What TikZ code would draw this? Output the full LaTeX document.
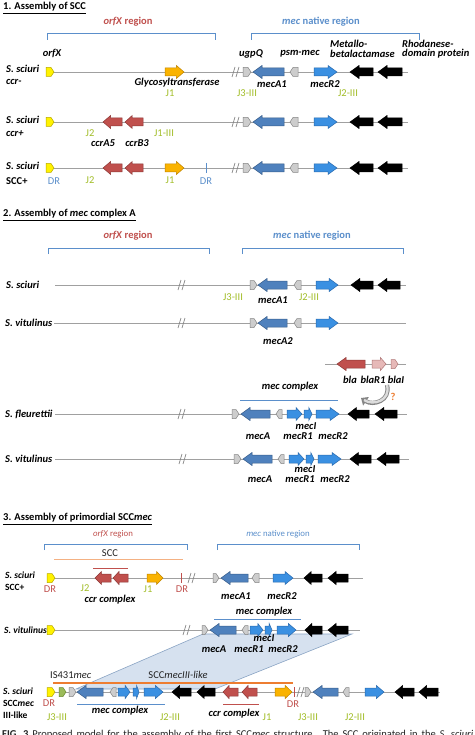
\documentclass[tikz,border=0pt]{standalone}
\usepackage{fontspec}
\setmainfont{Carlito}
\usetikzlibrary{arrows.meta}
\definecolor{cBlueDark}{HTML}{4F81BD}
\definecolor{cBlueDarkD}{HTML}{385D8A}
\definecolor{cBlueBr}{HTML}{3A90E2}
\definecolor{cBlueBrD}{HTML}{2A6AAE}
\definecolor{cRed}{HTML}{C0504D}
\definecolor{cRedD}{HTML}{8C3836}
\definecolor{cOrange}{HTML}{FAB300}
\definecolor{cOrangeD}{HTML}{C08400}
\definecolor{cYellow}{HTML}{FFF200}
\definecolor{cYellowD}{HTML}{B8A800}
\definecolor{cGrey}{HTML}{CDCDCD}
\definecolor{cGreyD}{HTML}{858585}
\definecolor{cPink}{HTML}{E6B9B8}
\definecolor{cPinkD}{HTML}{B07878}
\definecolor{cGreen}{HTML}{9BBB59}
\definecolor{cGreenD}{HTML}{6A8A30}
\definecolor{cJ}{HTML}{A3BE2A}
\definecolor{cBracket}{HTML}{5B8FCB}
\definecolor{cLine}{HTML}{A0A0A0}
\definecolor{cSCC}{HTML}{F4B183}
\definecolor{cSCCm}{HTML}{ED7D31}
\definecolor{cFill}{HTML}{D6E1EF}
\definecolor{cFillD}{HTML}{8AA4C4}
\definecolor{cText}{HTML}{222222}
\newcommand\fsA{\fontsize{10.5}{12}\selectfont}
\newcommand\fsB{\fontsize{9.5}{11}\selectfont}
\newcommand\fsC{\fontsize{8.8}{10}\selectfont}
\tikzset{
  gene/.style={line width=0.5pt, line join=miter},
  gmecA/.style={fill=cBlueDark, draw=cBlueDarkD},
  gmecR/.style={fill=cBlueBr, draw=cBlueBrD},
  gblk/.style={fill=black, draw=black},
  ggry/.style={fill=cGrey, draw=cGreyD},
  gred/.style={fill=cRed, draw=cRedD},
  gorg/.style={fill=cOrange, draw=cOrangeD},
  gyel/.style={fill=cYellow, draw=cYellowD},
  gpink/.style={fill=cPink, draw=cPinkD},
  ggrn/.style={fill=cGreen, draw=cGreenD},
  bb/.style={draw=cLine, line width=0.8pt},
  brkl/.style={draw=cGreyD, line width=0.7pt},
  brace/.style={draw=cBracket, line width=1pt},
  tx/.style={inner sep=0pt, font=\fsA, text=cText},
  bi/.style={inner sep=0pt, font=\fsA\bfseries\itshape, text=black},
  sp/.style={bi, anchor=west},
  jl/.style={inner sep=0pt, font=\fsA, text=cJ},
  drb/.style={inner sep=0pt, font=\fsA, text=cBracket},
  drr/.style={inner sep=0pt, font=\fsA, text=cRed},
  ttl/.style={inner sep=0pt, font=\fsA\bfseries, text=black, anchor=west},
}
% big gene arrow: x1, x2, y, dir (1 right / -1 left), style
\newcommand\GA[5]{%
  \pgfmathsetmacro\hl{min(9,0.4*(#2-#1))}%
  \ifnum#4>0
    \filldraw[gene,#5] (#1,{#3-4}) -- ({#2-\hl},{#3-4}) -- ({#2-\hl},{#3-6.5}) -- (#2,#3) -- ({#2-\hl},{#3+6.5}) -- ({#2-\hl},{#3+4}) -- (#1,{#3+4}) -- cycle;
  \else
    \filldraw[gene,#5] (#2,{#3-4}) -- ({#1+\hl},{#3-4}) -- ({#1+\hl},{#3-6.5}) -- (#1,#3) -- ({#1+\hl},{#3+6.5}) -- ({#1+\hl},{#3+4}) -- (#2,{#3+4}) -- cycle;
  \fi}
% small pentagon gene
\newcommand\GS[5]{%
  \ifnum#4>0
    \filldraw[gene,#5] (#1,{#3-4.5}) -- ({#2-3},{#3-4.5}) -- (#2,#3) -- ({#2-3},{#3+4.5}) -- (#1,{#3+4.5}) -- cycle;
  \else
    \filldraw[gene,#5] (#2,{#3-4.5}) -- ({#1+3},{#3-4.5}) -- (#1,#3) -- ({#1+3},{#3+4.5}) -- (#2,{#3+4.5}) -- cycle;
  \fi}
\newcommand\BRK[2]{\draw[brkl] ({#1-4},{#2+5}) -- ({#1-1},{#2-5}) ({#1},{#2+5}) -- ({#1+3},{#2-5});}
\newcommand\MECROW[1]{%
  \BRK{236}{#1}
  \GS{243}{251}{#1}{1}{ggry}
  \GA{253}{284}{#1}{-1}{gmecA}
  \GS{290}{298}{#1}{-1}{ggry}
  \GA{314}{337}{#1}{1}{gmecR}
  \GA{350}{373}{#1}{-1}{gblk}
  \GA{378}{402}{#1}{-1}{gblk}}
\begin{document}
\begin{tikzpicture}[x=1pt,y=-1pt]
\useasboundingbox (0,0) rectangle (474,735);
\clip (0,0) rectangle (474,735);
\fill[white] (0,0) rectangle (474,735);

%% ================= Section 1 =================
\node[ttl] (s1) at (3,8) {\underline{1. Assembly of SCC}};
\node[tx, font=\fsA\bfseries, text=cRed] (h1a) at (128,22) {\textit{orfX} region};
\node[tx, font=\fsA\bfseries, text=cBracket] (h1b) at (321,22) {\textit{mec} native region};
\draw[brace] (47,40) -- (47,34) -- (215,34) -- (215,40);
\draw[brace] (251,40) -- (251,34) -- (419,34) -- (419,40);

% row A
\draw[bb] (50,72) -- (408,72);
\GS{46}{54}{72}{1}{gyel}
\GA{165}{184}{72}{1}{gorg}
\MECROW{72}
\node[sp] (a1) at (6,69) {S. sciuri};
\node[sp] (a2) at (6,82) {ccr-};
\node[bi] (a3) at (52,53) {orfX};
\node[bi] (a4) at (177,83) {Glycosyltransferase};
\node[jl] (a5) at (170,93) {J1};
\node[bi] (a6) at (251,54) {ugpQ};
\node[bi] (a7) at (300,54) {psm-mec};
\node[bi, anchor=west] (a8) at (330,44) {Metallo-};
\node[bi, anchor=west] (a9) at (330,54) {betalactamase};
\node[bi, anchor=west] (a10) at (402,44) {Rhodanese-};
\node[bi, anchor=west] (a11) at (402,54) {domain protein};
\node[bi] (a12) at (272,84) {mecA1};
\node[bi] (a13) at (325,84) {mecR2};
\node[jl] (a14) at (247,93) {J3-III};
\node[jl] (a15) at (348,93) {J2-III};

% row B
\draw[bb] (50,122) -- (408,122);
\GS{46}{54}{122}{1}{gyel}
\GA{103}{122}{122}{-1}{gred}
\GA{125}{143}{122}{-1}{gred}
\MECROW{122}
\node[sp] (b1) at (6,120) {S. sciuri};
\node[sp] (b2) at (6,134) {ccr+};
\node[jl] (b3) at (90,133) {J2};
\node[bi] (b4) at (103,143) {ccrA5};
\node[bi] (b5) at (137,143) {ccrB3};
\node[jl] (b6) at (164,133) {J1-III};

% row C
\draw[bb] (50,168) -- (408,168);
\GS{46}{54}{168}{1}{gyel}
\GA{103}{122}{168}{-1}{gred}
\GA{125}{143}{168}{-1}{gred}
\GA{165}{184}{168}{1}{gorg}
\draw[brace] (206,163) -- (206,173);
\MECROW{168}
\node[sp] (c1) at (6,166) {S. sciuri};
\node[sp, font=\fsA\bfseries] (c2) at (6,181) {SCC+};
\node[drb] (c3) at (54,181) {DR};
\node[jl] (c4) at (90,180) {J2};
\node[jl] (c5) at (170,180) {J1};
\node[drb] (c6) at (206,181) {DR};

%% ================= Section 2 =================
\node[ttl] (s2) at (3,215) {\underline{2. Assembly of \textit{mec} complex A}};
\node[tx, font=\fsA\bfseries, text=cRed] (h2a) at (128,236) {\textit{orfX} region};
\node[tx, font=\fsA\bfseries, text=cBracket] (h2b) at (312,236) {\textit{mec} native region};
\draw[brace] (48,254) -- (48,248) -- (209,248) -- (209,254);
\draw[brace] (242,254) -- (242,248) -- (403,248) -- (403,254);

% S. sciuri
\draw[bb] (55,285) -- (406,285);
\BRK{182}{285}
\GS{250}{257}{285}{1}{ggry}
\GA{258}{287}{285}{-1}{gmecA}
\GS{294}{301}{285}{-1}{ggry}
\GA{316}{338}{285}{1}{gmecR}
\GA{351}{373}{285}{-1}{gblk}
\GA{378}{400}{285}{-1}{gblk}
\node[sp] (d1) at (6,285) {S. sciuri};
\node[jl] (d2) at (233,297) {J3-III};
\node[bi] (d3) at (273,300) {mecA1};
\node[jl] (d4) at (309,297) {J2-III};

% S. vitulinus
\draw[bb] (54,323) -- (406,323);
\BRK{182}{323}
\GS{250}{257}{323}{1}{ggry}
\GA{258}{287}{323}{-1}{gmecA}
\GS{294}{301}{323}{-1}{ggry}
\GA{316}{338}{323}{1}{gmecR}
\node[sp] (e1) at (5,323) {S. vitulinus};
\node[bi] (e2) at (278,341) {mecA2};

% bla cluster
\draw[bb] (325,364) -- (406,364);
\GA{337}{365}{364}{-1}{gred}
\GA{372}{386}{364}{1}{gpink}
\GS{391}{398}{364}{1}{gpink}
\node[bi] (f1) at (350,380) {bla};
\node[bi] (f2) at (373,380) {blaR1};
\node[bi] (f3) at (396,380) {blaI};
\draw[cGreyD, line width=4.2pt, -{Triangle[length=6pt,width=10pt]}] (387,385) .. controls (391,401) and (373,406) .. (361,398);
\draw[cGrey!70, line width=2.4pt] (387,385) .. controls (391,401) and (373,406) .. (364,400);
\node[tx, font=\fsA\bfseries, text=cSCCm] (f4) at (393,397) {?};

\node[bi] (f5) at (290,387) {mec complex};
\draw[brace] (240,400) -- (338,400);

% S. fleurettii
\draw[bb] (55,414) -- (407,414);
\BRK{182}{414}
\GS{232}{239}{414}{1}{ggry}
\GA{241}{270}{414}{-1}{gmecA}
\GS{276}{282}{414}{-1}{ggry}
\GA{287}{302}{414}{1}{gmecR}
\GA{304}{312}{414}{1}{gmecR}
\GA{316}{339}{414}{1}{gmecR}
\GA{348}{369}{414}{-1}{gblk}
\GA{375}{397}{414}{-1}{gblk}
\node[sp] (g1) at (5,414) {S. fleurettii};
\node[bi] (g2) at (306,426) {mecI};
\node[bi] (g3) at (258,436) {mecA};
\node[bi] (g4) at (298,436) {mecR1};
\node[bi] (g5) at (333,436) {mecR2};

% S. vitulinus 2
\draw[bb] (55,459) -- (409,459);
\BRK{183}{459}
\GS{234}{241}{459}{1}{ggry}
\GA{243}{272}{459}{-1}{gmecA}
\GS{278}{284}{459}{-1}{ggry}
\GA{289}{304}{459}{1}{gmecR}
\GA{306}{314}{459}{1}{gmecR}
\GA{318}{341}{459}{1}{gmecR}
\GA{350}{371}{459}{-1}{gblk}
\GA{377}{399}{459}{-1}{gblk}
\node[sp] (k1) at (5,459) {S. vitulinus};
\node[bi] (k2) at (305,469) {mecI};
\node[bi] (k3) at (260,479) {mecA};
\node[bi] (k4) at (300,479) {mecR1};
\node[bi] (k5) at (335,479) {mecR2};

%% ================= Section 3 =================
\node[ttl] (s3) at (3,519) {\underline{3. Assembly of primordial SCC\textit{mec}}};
\node[tx, font=\fsC, text=cRed] (h3a) at (113,534) {\textit{orfX} region};
\node[tx, font=\fsC, text=cBracket] (h3b) at (278,534) {\textit{mec} native region};
\draw[brace] (44,550) -- (44,544) -- (187,544) -- (187,550);
\draw[brace] (217,550) -- (217,544) -- (359,544) -- (359,550);
\node[tx, font=\fsA] (h3c) at (110,553) {SCC};
\draw[cSCC, line width=1pt] (54,559) -- (183,559);

% trapezoid
\filldraw[fill=cFill, draw=cFillD, line width=0.6pt] (203,634) -- (352,634) -- (215,689) -- (76,689) -- cycle;

% S. sciuri SCC+
\draw[bb] (54,578) -- (363,578);
\GS{47}{55}{578}{1}{gyel}
\draw[cRed, line width=1pt] (93,568) -- (128,568);
\GA{95}{111}{578}{-1}{gred}
\GA{113}{128}{578}{-1}{gred}
\GA{147}{163}{578}{1}{gorg}
\draw[cRed, line width=1pt] (181,573) -- (181,583);
\BRK{192}{578}
\GS{213}{219}{578}{1}{ggry}
\GA{221}{248}{578}{-1}{gmecA}
\GS{252}{259}{578}{-1}{ggry}
\GA{273}{293}{578}{1}{gmecR}
\GA{304}{322}{578}{-1}{gblk}
\GA{328}{348}{578}{-1}{gblk}
\node[sp, font=\fsB\bfseries\itshape] (m1) at (5,575) {S. sciuri};
\node[sp, font=\fsB\bfseries] (m2) at (5,587) {SCC+};
\node[drr] (m3) at (50,589) {DR};
\node[jl] (m4) at (85,588) {J2};
\node[jl] (m5) at (148,589) {J1};
\node[drr] (m6) at (182,589) {DR};
\node[bi] (m7) at (110,600) {ccr complex};
\node[bi] (m8) at (236,596) {mecA1};
\node[bi] (m9) at (282,596) {mecR2};

% S. vitulinus
\node[bi] (n0) at (264,612) {mec complex};
\draw[brace] (214,619) -- (301,619);
\draw[bb] (54,630) -- (360,630);
\GS{47}{55}{630}{1}{gyel}
\BRK{187}{630}
\GS{202}{208}{630}{1}{ggry}
\GA{210}{236}{630}{-1}{gmecA}
\GS{242}{248}{630}{-1}{ggry}
\GA{250}{263}{630}{1}{gmecR}
\GA{265}{272}{630}{1}{gmecR}
\GA{277}{296}{630}{1}{gmecR}
\GA{305}{322}{630}{-1}{gblk}
\GA{328}{348}{630}{-1}{gblk}
\node[sp, font=\fsB\bfseries\itshape] (n1) at (4,630) {S. vitulinus};
\node[bi] (n2) at (264,638) {mecI};
\node[bi] (n3) at (214,649) {mecA};
\node[bi] (n4) at (249,649) {mecR1};
\node[bi] (n5) at (283,649) {mecR2};

% S. sciuri SCCmec III-like
\node[tx, anchor=west] (p1) at (50,675) {IS431\textit{mec}};
\node[tx] (p2) at (178,675) {SCC\textit{mecIII-like}};
\draw[cSCCm, line width=1.2pt] (53,683) -- (293,683);
\draw[bb] (54,692) -- (440,692);
\GS{47}{55}{692}{1}{gyel}
\GS{59}{66}{692}{1}{ggrn}
\GS{69}{76}{692}{1}{ggry}
\GA{77}{103}{692}{-1}{gmecA}
\GS{110}{116}{692}{-1}{ggry}
\GA{118}{130}{692}{1}{gmecR}
\GA{133}{139}{692}{1}{gmecR}
\GA{144}{163}{692}{1}{gmecR}
\GA{172}{191}{692}{-1}{gblk}
\GA{197}{215}{692}{-1}{gblk}
\GA{223}{238}{692}{-1}{gred}
\GA{242}{257}{692}{-1}{gred}
\GA{275}{292}{692}{1}{gorg}
\draw[cRed, line width=1pt] (294,687) -- (294,697);
\BRK{301}{692}
\GS{305}{311}{692}{1}{ggry}
\GA{313}{338}{692}{-1}{gmecA}
\GS{343}{349}{692}{-1}{ggry}
\GA{365}{384}{692}{1}{gmecR}
\GA{395}{414}{692}{-1}{gblk}
\GA{419}{438}{692}{-1}{gblk}
\draw[brace] (77,704) -- (165,704);
\draw[cRed, line width=1pt] (223,704) -- (259,704);
\node[sp, font=\fsB\bfseries\itshape] (q1) at (3,691) {S. sciuri};
\node[sp, font=\fsB\bfseries] (q2) at (3,703) {SCC\textit{mec}};
\node[sp, font=\fsB\bfseries] (q3) at (3,715) {III-like};
\node[drr] (q4) at (49,703) {DR};
\node[jl] (q5) at (57,717) {J3-III};
\node[bi] (q6) at (120,711) {mec complex};
\node[jl] (q7) at (170,717) {J2-III};
\node[bi] (q8) at (234,714) {ccr complex};
\node[jl] (q9) at (267,717) {J1};
\node[drr] (q10) at (293,704) {DR};
\node[jl] (q11) at (308,717) {J3-III};
\node[jl] (q12) at (355,717) {J2-III};

% caption (cut at bottom edge)
\node[anchor=base west, inner sep=0pt, font=\fsA, text=cText] (cap) at (2,737) {\makebox[471pt][s]{\textbf{FIG. 3} Proposed model for the assembly of the first SCC\textit{mec} structure. The SCC originated in the \textit{S. sciuri}}};
\end{tikzpicture}
\end{document}
